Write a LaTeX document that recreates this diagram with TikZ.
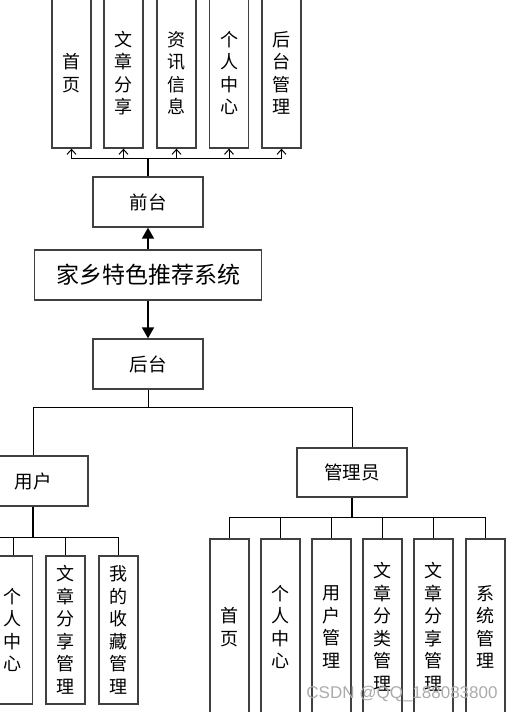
\documentclass[tikz,border=0pt]{standalone}
\usepackage{fontspec}
\newfontfamily\cjk{Noto Sans CJK SC}
\setsansfont{Liberation Sans}
\usetikzlibrary{arrows.meta}
\tikzset{
    plain-box/.style = {draw=black!75, line width=1.3pt, fill=white, rectangle, inner sep=0pt, minimum width=110, minimum height=50, font=\cjk\fontsize{18.5}{18.5}\selectfont},
    title-box/.style = {plain-box, minimum width=227, font=\cjk\fontsize{23}{23}\selectfont},
    col-box/.style = {plain-box, minimum width=39, align=center, font=\cjk\fontsize{18}{22.5}\selectfont},
    link/.style = {black, line width=1pt},
    stem/.style = {black, line width=1.8pt},
}

\begin{document}
\begin{tikzpicture}[x=1pt, y=-1pt]
\useasboundingbox (0,0) rectangle (516,712);
\clip (0,0) rectangle (516,712);

% front end
\foreach \x/\t [count=\i] in {71.5/{首\\页}, 123.5/{文\\章\\分\\享}, 176.5/{资\\讯\\信\\息}, 229/{个\\人\\中\\心}, 281.5/{后\\台\\管\\理}}
    \node[col-box, minimum height=150] (top\i) at (\x,73) {\t};
\node[plain-box] (front) at (148,202) {前台};
\node[title-box] (sys) at (148,275) {家乡特色推荐系统};
\node[plain-box] (back) at (148,364) {后台};

\coordinate (fbus) at (148,158);
\draw[stem] (front.north) -- (fbus);
\foreach \i in {1,...,5}
    \draw[link, -{Straight Barb[length=5pt, width=9pt]}] (fbus) -| (top\i.south);
\draw[stem, -{Triangle[length=11pt, width=12pt]}] (sys.north) -- (front.south);
\draw[stem, -{Triangle[length=11pt, width=12pt]}] (sys.south) -- (back.north);

% back end
\node[plain-box] (user) at (33,481) {用户};
\node[plain-box, minimum height=49] (admin) at (352,472.5) {管理员};
\coordinate (split) at (148,407);
\draw[link] (back.south) -- (split);
\draw[link] (split) -| (user.north);
\draw[link] (split) -| (admin.north);

% user
\foreach \x/\t [count=\i] in {13/{个\\人\\中\\心}, 65.5/{文\\章\\分\\享\\管\\理}, 118.5/{我\\的\\收\\藏\\管\\理}}
    \node[col-box, minimum height=148] (u\i) at (\x,630) {\t};
\coordinate (ubus) at (33,537);
\coordinate (ubus-end) at (-10,537);
\draw[stem] (user.south) -- (ubus);
\draw[link] (ubus) -- (ubus-end);
\foreach \i in {1,2,3}
    \draw[link] (ubus) -| (u\i.north);

% admin
\foreach \x/\t [count=\i] in {229.5/{首\\页}, 280.5/{个\\人\\中\\心}, 331.5/{用\\户\\管\\理}, 382.5/{文\\章\\分\\类\\管\\理}, 433.5/{文\\章\\分\\享\\管\\理}, 485.5/{系\\统\\管\\理}}
    \node[col-box, minimum height=176] (a\i) at (\x,627) {\t};
\coordinate (abus) at (352,517);
\draw[stem] (admin.south) -- (abus);
\foreach \i in {1,...,6}
    \draw[link] (abus) -| (a\i.north);

\node[text=gray!65, font=\sffamily\fontsize{17}{17}\selectfont] (mark) at (402,694) {CSDN @QQ\_188083800};
\end{tikzpicture}
\end{document}
